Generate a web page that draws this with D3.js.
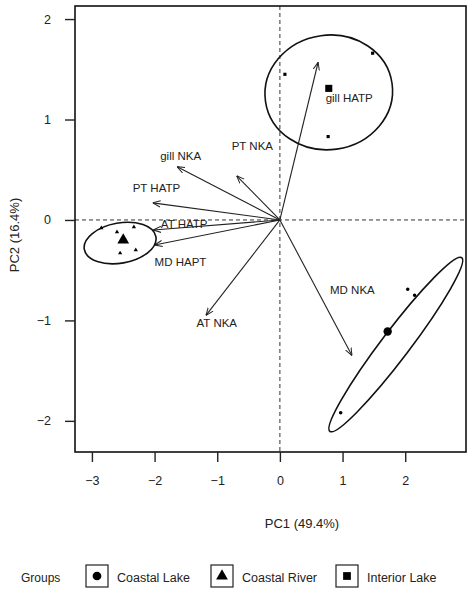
<!DOCTYPE html><html><head><meta charset="utf-8"><script src="https://cdn.jsdelivr.net/npm/d3@7"></script>
<style>body{margin:0;background:#fff}text{font-family:"Liberation Sans",Arial,sans-serif;fill:#222}</style></head><body><svg id="c" width="474" height="598"></svg><script>
const xTicks=[-3,-2,-1,0,1,2], yTicks=[-2,-1,0,1,2];
const pointsLake=[[2.04,-0.69],[2.15,-0.75],[0.97,-1.92]], meanLake=[1.72,-1.11];
const pointsRiver=[[-2.85,-0.08],[-2.33,-0.07],[-2.6,-0.12],[-2.55,-0.33],[-2.3,-0.3]], meanRiver=[-2.5,-0.2];
const pointsInterior=[[0.08,1.45],[0.77,0.83],[1.48,1.66]], meanInterior=[0.78,1.31];
const arrowNames=["gill HATP","PT NKA","gill NKA","PT HATP","AT HATP","MD HAPT","AT NKA","MD NKA"];
const arrowX=[0.61,-0.69,-1.64,-2.03,-2.02,-2.0,-1.18,1.15];
const arrowY=[1.57,0.44,0.53,0.17,-0.1,-0.25,-0.95,-1.35];
const labelX=[0.73,-0.77,-1.91,-2.35,-1.9,-2.0,-1.33,0.8];
const labelY=[1.17,0.7,0.6,0.28,-0.08,-0.46,-1.07,-0.74];
const ellipses=[{c:[0.78,1.27],rx:1.02,ry:0.57,a:-8},{c:[-2.55,-0.23],rx:0.58,ry:0.2,a:-10},{c:[1.85,-1.24],rx:1.74,ry:0.14,a:-52.8}];
const svg=d3.select("#c");
const x=d3.scaleLinear().domain([-3.27,2.97]).range([75,466]);
const y=d3.scaleLinear().domain([-2.31,2.13]).range([452,6]);
const g=svg.append("g");
g.append("line").attr("x1",x(0)).attr("x2",x(0)).attr("y1",6).attr("y2",452).attr("stroke","#333").attr("stroke-dasharray","4,3");
g.append("line").attr("y1",y(0)).attr("y2",y(0)).attr("x1",75).attr("x2",466).attr("stroke","#333").attr("stroke-dasharray","4,3");
svg.append("defs").append("marker").attr("id","ar").attr("viewBox","0 0 10 10").attr("refX",10).attr("refY",5).attr("markerWidth",7).attr("markerHeight",7).attr("orient","auto").append("path").attr("d","M0,1 L10,5 L0,9").attr("fill","none").attr("stroke","#222").attr("stroke-width",1.3);
arrowNames.forEach((n,i)=>{
 g.append("line").attr("x1",x(0)).attr("y1",y(0)).attr("x2",x(arrowX[i])).attr("y2",y(arrowY[i])).attr("stroke","#222").attr("stroke-width",1.1).attr("marker-end","url(#ar)");
 g.append("text").attr("x",x(labelX[i])).attr("y",y(labelY[i])).attr("font-size",11.5).text(n);
});
const kx=x(1)-x(0), ky=y(0)-y(1);
ellipses.forEach(e=>{
 g.append("ellipse").attr("cx",0).attr("cy",0).attr("rx",e.rx*kx).attr("ry",e.ry*ky).attr("transform",`translate(${x(e.c[0])},${y(e.c[1])}) rotate(${e.a})`).attr("fill","none").attr("stroke","#111").attr("stroke-width",1.6);
});
const sym=(t,s)=>d3.symbol().type(t).size(s)();
pointsLake.forEach(p=>g.append("path").attr("d",sym(d3.symbolCircle,10)).attr("transform",`translate(${x(p[0])},${y(p[1])})`));
pointsRiver.forEach(p=>g.append("path").attr("d",sym(d3.symbolTriangle,8)).attr("transform",`translate(${x(p[0])},${y(p[1])})`));
pointsInterior.forEach(p=>g.append("path").attr("d",sym(d3.symbolSquare,10)).attr("transform",`translate(${x(p[0])},${y(p[1])})`));
g.append("path").attr("d",sym(d3.symbolCircle,55)).attr("transform",`translate(${x(meanLake[0])},${y(meanLake[1])})`);
g.append("path").attr("d",sym(d3.symbolTriangle,60)).attr("transform",`translate(${x(meanRiver[0])},${y(meanRiver[1])})`);
g.append("path").attr("d",sym(d3.symbolSquare,50)).attr("transform",`translate(${x(meanInterior[0])},${y(meanInterior[1])})`);
svg.append("rect").attr("x",75).attr("y",6).attr("width",391).attr("height",446).attr("fill","none").attr("stroke","#111").attr("stroke-width",1.6);
const fmt=d3.format("d");
const xa=svg.append("g").attr("transform","translate(0,452)").call(d3.axisBottom(x).tickValues(xTicks).tickFormat(fmt).tickSize(10).tickPadding(14));
const ya=svg.append("g").attr("transform","translate(75,0)").call(d3.axisLeft(y).tickValues(yTicks).tickFormat(fmt).tickSize(10).tickPadding(14));
[xa,ya].forEach(a=>{a.select(".domain").remove();a.selectAll("line").attr("stroke","#222").attr("stroke-width",1.4);a.selectAll("text").attr("font-size",12.5).attr("font-family","Liberation Sans, Arial");});
svg.append("text").attr("x",302).attr("y",528).attr("text-anchor","middle").attr("font-size",13).text("PC1 (49.4%)");
svg.append("text").attr("transform","translate(19,235) rotate(-90)").attr("text-anchor","middle").attr("font-size",13).text("PC2 (16.4%)");
const legend=[["Coastal Lake",d3.symbolCircle,86],["Coastal River",d3.symbolTriangle,211],["Interior Lake",d3.symbolSquare,336]];
svg.append("text").attr("x",21).attr("y",582).attr("font-size",12).text("Groups");
legend.forEach(l=>{
 svg.append("rect").attr("x",l[2]).attr("y",565).attr("width",22).attr("height",22).attr("fill","none").attr("stroke","#222").attr("stroke-width",1.2);
 svg.append("path").attr("d",sym(l[1],60)).attr("transform",`translate(${l[2]+11},576)`);
 svg.append("text").attr("x",l[2]+31).attr("y",582).attr("font-size",12.5).text(l[0]);
});
</script></body></html>
